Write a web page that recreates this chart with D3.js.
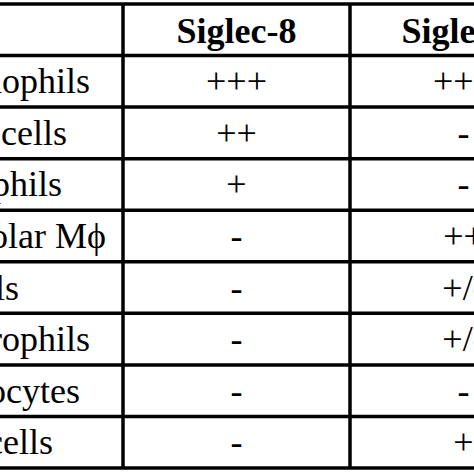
<!DOCTYPE html>
<html><head><meta charset="utf-8">
<script src="https://cdn.jsdelivr.net/npm/d3@7"></script>
<style>body{margin:0;background:#fff}</style>
</head><body>
<script>
const columns = ["", "Siglec-8", "Siglec-F"];
const cellTypes = ["Eosinophils","Mast cells","Basophils","Alveolar Mϕ","B cells","Neutrophils","Monocytes","DM cells"];
const siglec8 = ["+++","++","+","-","-","-","-","-"];
const siglecF = ["+++","-","-","++","+/-","+/-","-","+"];

const W = 474, H = 474;
const svg = d3.select("body").append("svg").attr("width", W).attr("height", H);
const x = d3.scaleLinear().domain([0, 3]).range([-104, 577]);
const y = d3.scaleBand().domain(["header", ...cellTypes]).range([4, 468]);
const font = "'Liberation Serif','Times New Roman',serif";

const rowsEdges = [y("header"), y("header") + y.bandwidth(), ...cellTypes.map(c => y(c) + y.bandwidth())];
svg.selectAll("line.h").data(rowsEdges).join("line")
  .attr("x1", x(0)).attr("x2", x(3)).attr("y1", d => d).attr("y2", d => d)
  .attr("stroke", "#000").attr("stroke-width", 3.5);
svg.selectAll("line.v").data([0,1,2,3]).join("line")
  .attr("x1", d => x(d)).attr("x2", d => x(d)).attr("y1", y("header")).attr("y2", y.range()[1])
  .attr("stroke", "#000").attr("stroke-width", 3.5);

svg.selectAll("text.hd").data(columns).join("text")
  .attr("x", (d,i) => (x(i)+x(i+1))/2).attr("y", y("header") + y.bandwidth()/2 + 13)
  .attr("text-anchor","middle").attr("font-family", font).attr("font-weight","bold")
  .attr("font-size", 36).text(d => d);

svg.selectAll("text.lb").data(cellTypes).join("text")
  .attr("x", -80).attr("y", d => y(d) + y.bandwidth()/2 + 12)
  .attr("font-family", font).attr("font-size", 36).text(d => d);

[siglec8, siglecF].forEach((vals, k) => {
  svg.append("g").selectAll("text").data(vals).join("text")
    .attr("x", (x(k+1)+x(k+2))/2).attr("y", (d,i) => y(cellTypes[i]) + y.bandwidth()/2 + 12)
    .attr("text-anchor","middle").attr("font-family", font).attr("font-size", 36).text(d => d);
});
</script>
</body></html>
